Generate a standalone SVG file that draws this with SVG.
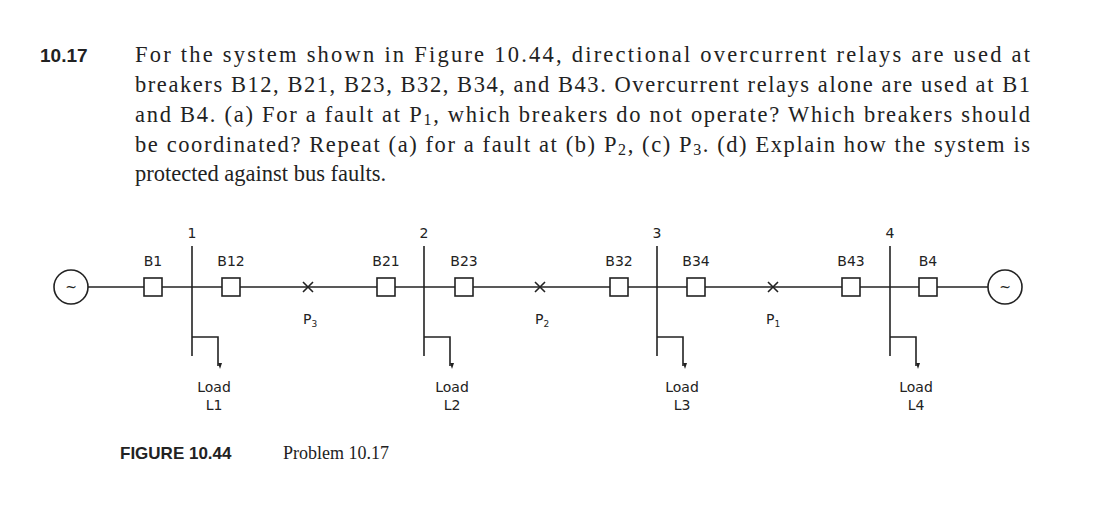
<svg xmlns="http://www.w3.org/2000/svg" width="1103" height="518" viewBox="0 0 1103 518">
<style>
.p{font-family:"Liberation Serif",serif;font-size:22.5px;fill:#222}
.s{font-family:"DejaVu Sans","Liberation Sans",sans-serif;font-size:14px;fill:#222}
.ln{stroke:#222;stroke-width:1.6;fill:none}
.bk{stroke:#222;stroke-width:1.6;fill:#fff}
</style>
<defs><marker id="a" markerWidth="6" markerHeight="6" refX="3" refY="5" orient="auto" markerUnits="userSpaceOnUse"><path d="M1,0 L3,6 L5,0 Z" fill="#222" transform="rotate(-90 3 3)"/></marker></defs>
<rect width="1103" height="518" fill="#fff"/>
<text x="40" y="62" font-family="Liberation Sans,sans-serif" font-weight="bold" font-size="19" fill="#222">10.17</text>
<text class="p" x="135" y="62" textLength="895" lengthAdjust="spacing">For the system shown in Figure 10.44, directional overcurrent relays are used at</text>
<text class="p" x="135" y="92" textLength="895" lengthAdjust="spacing">breakers B12, B21, B23, B32, B34, and B43. Overcurrent relays alone are used at B1</text>
<text class="p" x="135" y="122" textLength="895" lengthAdjust="spacing">and B4. (a) For a fault at P<tspan font-size="16" dy="3">1</tspan><tspan dy="-3">, which breakers do not operate? Which breakers should</tspan></text>
<text class="p" x="135" y="152" textLength="895" lengthAdjust="spacing">be coordinated? Repeat (a) for a fault at (b) P<tspan font-size="16" dy="3">2</tspan><tspan dy="-3">, (c) P</tspan><tspan font-size="16" dy="3">3</tspan><tspan dy="-3">. (d) Explain how the system is</tspan></text>
<text class="p" x="135" y="181">protected against bus faults.</text>
<g id="connectors">
<line class="ln" x1="88" y1="287" x2="988" y2="287"/>
</g>
<g id="gen1"><circle class="bk" cx="71" cy="287" r="17"/><text class="s" x="71" y="292" text-anchor="middle">~</text></g>
<g id="gen4"><circle class="bk" cx="1005" cy="287" r="17"/><text class="s" x="1005" y="292" text-anchor="middle">~</text></g>
<g id="bus1"><line class="ln" x1="192" y1="246" x2="192" y2="356"/><text class="s" x="192" y="238" text-anchor="middle">1</text>
<path class="ln" d="M192,337 H218 V366" marker-end="url(#a)"/><text class="s" x="214" y="392" text-anchor="middle">Load</text><text class="s" x="214" y="410" text-anchor="middle">L1</text></g>
<g id="bus2"><line class="ln" x1="424" y1="246" x2="424" y2="356"/><text class="s" x="424" y="238" text-anchor="middle">2</text>
<path class="ln" d="M424,337 H450 V366" marker-end="url(#a)"/><text class="s" x="452" y="392" text-anchor="middle">Load</text><text class="s" x="452" y="410" text-anchor="middle">L2</text></g>
<g id="bus3"><line class="ln" x1="657" y1="246" x2="657" y2="356"/><text class="s" x="657" y="238" text-anchor="middle">3</text>
<path class="ln" d="M657,337 H683 V366" marker-end="url(#a)"/><text class="s" x="682" y="392" text-anchor="middle">Load</text><text class="s" x="682" y="410" text-anchor="middle">L3</text></g>
<g id="bus4"><line class="ln" x1="890" y1="246" x2="890" y2="356"/><text class="s" x="890" y="238" text-anchor="middle">4</text>
<path class="ln" d="M890,337 H916 V366" marker-end="url(#a)"/><text class="s" x="916" y="392" text-anchor="middle">Load</text><text class="s" x="916" y="410" text-anchor="middle">L4</text></g>
<g id="B1"><rect class="bk" x="144" y="278" width="18" height="18"/><text class="s" x="153" y="266" text-anchor="middle">B1</text></g>
<g id="B12"><rect class="bk" x="222" y="278" width="18" height="18"/><text class="s" x="231" y="266" text-anchor="middle">B12</text></g>
<g id="B21"><rect class="bk" x="377" y="278" width="18" height="18"/><text class="s" x="386" y="266" text-anchor="middle">B21</text></g>
<g id="B23"><rect class="bk" x="455" y="278" width="18" height="18"/><text class="s" x="464" y="266" text-anchor="middle">B23</text></g>
<g id="B32"><rect class="bk" x="610" y="278" width="18" height="18"/><text class="s" x="619" y="266" text-anchor="middle">B32</text></g>
<g id="B34"><rect class="bk" x="687" y="278" width="18" height="18"/><text class="s" x="696" y="266" text-anchor="middle">B34</text></g>
<g id="B43"><rect class="bk" x="842" y="278" width="18" height="18"/><text class="s" x="851" y="266" text-anchor="middle">B43</text></g>
<g id="B4"><rect class="bk" x="919" y="278" width="18" height="18"/><text class="s" x="928" y="266" text-anchor="middle">B4</text></g>
<g id="P3"><path class="ln" d="M303,282 L313,292 M313,282 L303,292"/><text class="s" x="303" y="324">P<tspan font-size="9" dy="3">3</tspan></text></g>
<g id="P2"><path class="ln" d="M535,282 L545,292 M545,282 L535,292"/><text class="s" x="535" y="324">P<tspan font-size="9" dy="3">2</tspan></text></g>
<g id="P1"><path class="ln" d="M768,282 L778,292 M778,282 L768,292"/><text class="s" x="766" y="324">P<tspan font-size="9" dy="3">1</tspan></text></g>
<text x="120" y="459" font-family="Liberation Sans,sans-serif" font-weight="bold" font-size="17" fill="#222">FIGURE 10.44</text>
<text x="283" y="459" font-family="Liberation Serif,serif" font-size="18" fill="#222">Problem 10.17</text>
</svg>
